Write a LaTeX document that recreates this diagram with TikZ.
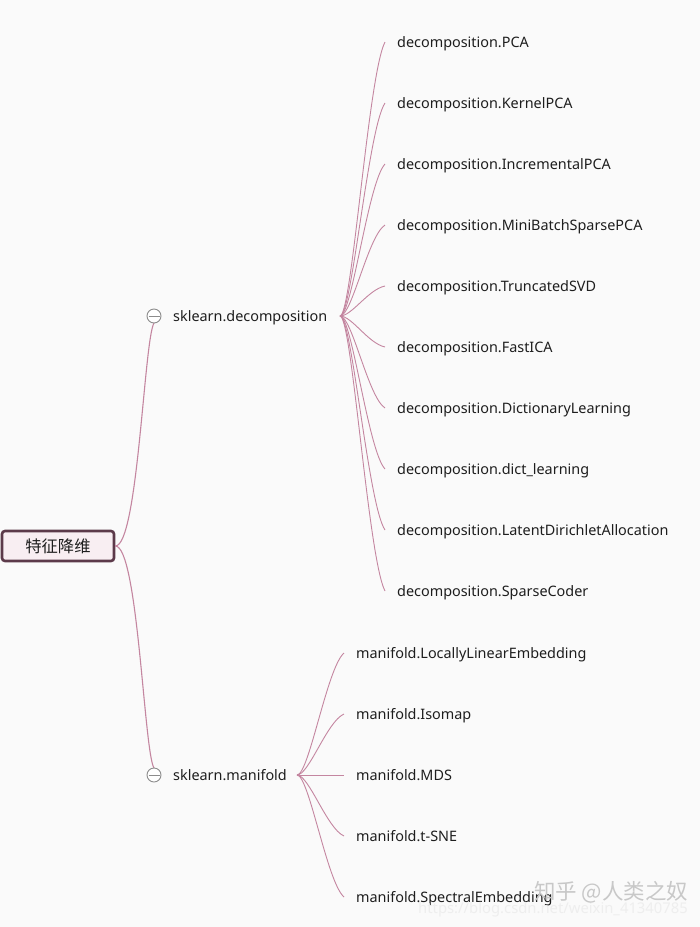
\documentclass[tikz,border=0pt]{standalone}
\usepackage{fontspec}
\setmainfont{Noto Sans}
\newfontfamily\cjk{Noto Sans CJK SC}
\definecolor{bgc}{RGB}{250,250,250}
\definecolor{linec}{RGB}{196,134,160}
\definecolor{rootborder}{RGB}{92,58,74}
\definecolor{rootfill}{RGB}{248,238,242}
\definecolor{txt}{RGB}{30,30,30}
\definecolor{circ}{RGB}{140,140,140}
\definecolor{wm}{RGB}{200,200,200}
\definecolor{wmurl}{RGB}{238,238,238}
\begin{document}
\begin{tikzpicture}[x=1pt,y=-1pt,
  rootbox/.style={draw=rootborder,fill=rootfill,line width=2.6pt,rounded corners=3pt,minimum width=112pt,minimum height=30pt,inner sep=0pt,font=\cjk\fontsize{16.3}{19}\selectfont,text=txt},
  leaf/.style={anchor=mid west,inner sep=0pt,yshift=-2.5pt,font=\fontsize{14.4}{17}\selectfont,text=txt},
  toggle/.style={circle,draw=circ,fill=white,line width=0.9pt,minimum size=14pt,inner sep=0pt},
  mainlink/.style={draw=linec,line width=1.1pt},
  sublink/.style={draw=linec,line width=0.9pt}
]
\fill[bgc] (0,0) rectangle (700,927);
\useasboundingbox (0,0) rectangle (700,927);

% root
\node[rootbox] (root) at (58,546) {特征降维};

% branch toggles (positions) and labels
\coordinate (t1c) at (154,316);
\coordinate (t2c) at (154,775);
\coordinate (t1s) at (154,323);
\coordinate (t2n) at (154,768);
\draw[mainlink] (root.east) .. controls (138,546) and (144,340) .. (t1s);
\draw[mainlink] (root.east) .. controls (138,546) and (144,752) .. (t2n);
\node[toggle] (t1) at (t1c) {};
\draw[circ,line width=0.9pt] ([xshift=-5.5pt]t1.center) -- ([xshift=5.5pt]t1.center);
\node[toggle] (t2) at (t2c) {};
\draw[circ,line width=0.9pt] ([xshift=-5.5pt]t2.center) -- ([xshift=5.5pt]t2.center);
\node[leaf] (b1) at (173,316) {sklearn.decomposition};
\node[leaf] (b2) at (173,775) {sklearn.manifold};
\coordinate (h1) at (340,316);
\coordinate (h2) at (297,775);

% decomposition children
\foreach \i/\y/\t in {1/42/decomposition.PCA,2/103/decomposition.KernelPCA,3/164/decomposition.IncrementalPCA,4/225/decomposition.MiniBatchSparsePCA,5/286/decomposition.TruncatedSVD,6/347/decomposition.FastICA,7/408/decomposition.DictionaryLearning,8/469/decomposition.dict\_learning,9/530/decomposition.LatentDirichletAllocation,10/591/decomposition.SparseCoder}{
  \node[leaf] (c\i) at (397,\y) {\t};
  \coordinate (e\i) at (385,\y);
  \draw[sublink] (h1) .. controls (352,316) and (368,{\y+0.12*(316-\y)}) .. (e\i);
}

% manifold children
\foreach \i/\y/\t in {1/653/manifold.LocallyLinearEmbedding,2/714/manifold.Isomap,3/775/manifold.MDS,4/836/manifold.t-SNE,5/897/manifold.SpectralEmbedding}{
  \node[leaf] (m\i) at (356,\y) {\t};
  \coordinate (f\i) at (344,\y);
  \draw[sublink] (h2) .. controls (309,775) and (327,{\y+0.12*(775-\y)}) .. (f\i);
}

% watermark
\node[anchor=mid west,inner sep=0pt,text=wmurl,font=\fontsize{14.8}{17}\selectfont] (url) at (418,911) {https://blog.csdn.net/weixin\_41340785};
\node[anchor=mid west,inner sep=0pt,text=wm,font=\cjk\fontsize{21.5}{24}\selectfont] (zh) at (534,897) {知乎 @人类之奴};
\end{tikzpicture}
\end{document}
